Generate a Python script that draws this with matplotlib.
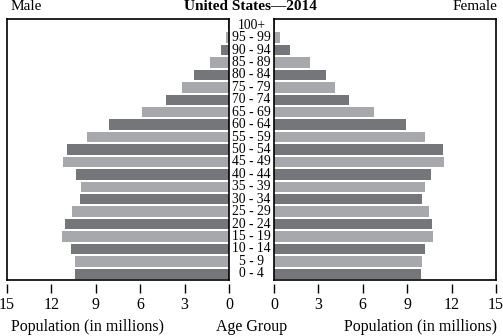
import matplotlib
matplotlib.use("Agg")
import matplotlib.pyplot as plt
from matplotlib.transforms import blended_transform_factory

age_groups = ["0 - 4", "5 - 9", "10 - 14", "15 - 19", "20 - 24", "25 - 29", "30 - 34",
              "35 - 39", "40 - 44", "45 - 49", "50 - 54", "55 - 59", "60 - 64", "65 - 69",
              "70 - 74", "75 - 79", "80 - 84", "85 - 89", "90 - 94", "95 - 99", "100+"]
male = [10.43, 10.38, 10.68, 11.3, 11.1, 10.63, 10.07, 10.0, 10.36, 11.24, 10.95,
        9.6, 8.1, 5.9, 4.28, 3.18, 2.34, 1.31, 0.56, 0.2, 0.08]
female = [9.93, 10.02, 10.17, 10.74, 10.65, 10.49, 10.02, 10.17, 10.6, 11.5, 11.41,
          10.22, 8.93, 6.77, 5.1, 4.15, 3.5, 2.41, 1.1, 0.38, 0.09]
xticks = [0, 3, 6, 9, 12, 15]

dark = "#75767a"
light = "#a7a8ab"
colors = [dark if i % 2 == 0 else light for i in range(len(age_groups))]

plt.rcParams['font.family'] = ['Liberation Serif', 'DejaVu Serif']

W, H = 503, 336
fig = plt.figure(figsize=(W / 100, H / 100), dpi=100)
axL = fig.add_axes([7 / W, 56 / H, 222 / W, 261 / H])
axR = fig.add_axes([274 / W, 56 / H, 222 / W, 261 / H])

y = list(range(len(age_groups)))
axL.barh(y, male, height=0.84, color=colors)
axR.barh(y, female, height=0.84, color=colors)

axL.set_xlim(15, 0)
axR.set_xlim(0, 15)
for ax in (axL, axR):
    ax.set_ylim(-0.5, 20.5)
    ax.set_yticks([])
    for s in ax.spines.values():
        s.set_linewidth(1.2)
    ax.tick_params(bottom=False, labelbottom=False)
    sec = ax.secondary_xaxis(-0.016)
    sec.spines['bottom'].set_visible(False)
    sec.set_xticks(xticks)
    sec.set_xticklabels([str(t) for t in xticks])
    sec.tick_params(axis='x', direction='out', length=6.5, width=1.0, labelsize=11.5, pad=3)

tr = blended_transform_factory(fig.transFigure, axL.transData)
for yi, lab in zip(y, age_groups):
    axL.text(251.5 / W, yi, lab, transform=tr, ha='center', va='center', fontsize=9.8,
             clip_on=False)

top_y = 1 - 0.5 / H
fig.text(11 / W, top_y, "Male", ha='left', va='top', fontsize=11)
fig.text(497 / W, top_y, "Female", ha='right', va='top', fontsize=11)
fig.text(250 / W, top_y, "United States\u20142014", ha='center', va='top',
         fontsize=11, fontweight='bold')
fig.text(11 / W, 1 - 327 / H, "Population (in millions)", ha='left', va='center', fontsize=11.5)
fig.text(497 / W, 1 - 327 / H, "Population (in millions)", ha='right', va='center', fontsize=11.5)
fig.text(251.5 / W, 1 - 327 / H, "Age Group", ha='center', va='center', fontsize=11.5)

fig.savefig("out.png", dpi=100)
